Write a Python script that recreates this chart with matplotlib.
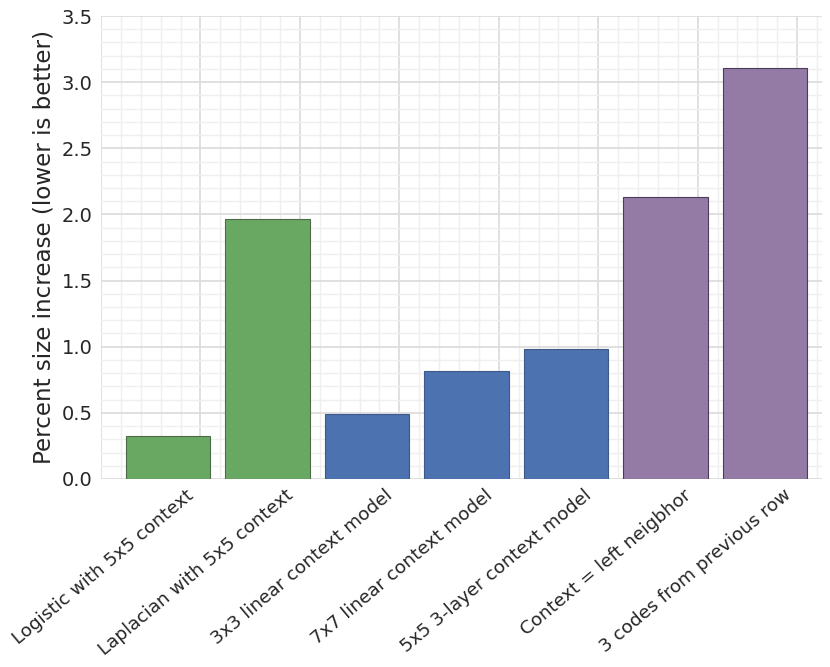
import numpy as np
import matplotlib
matplotlib.use("Agg")
import matplotlib.pyplot as plt
from matplotlib.ticker import MultipleLocator
import matplotlib.transforms as mtransforms

# data
labels = ['Logistic with 5x5 context', 'Laplacian with 5x5 context',
          '3x3 linear context model', '7x7 linear context model',
          '5x5 3-layer context model', 'Context = left neigbhor',
          '3 codes from previous row']
values = [0.325, 1.963, 0.49, 0.815, 0.98, 2.13, 3.107]
groups = ['green', 'green', 'blue', 'blue', 'blue', 'purple', 'purple']

palette = {'green': '#68a862', 'blue': '#4c72b0', 'purple': '#937ba6'}
edges = {'green': '#4d6b49', 'blue': '#3b5a8a', 'purple': '#4a3d5a'}

fig = plt.figure(figsize=(8.3, 6.67), dpi=100)
ax = fig.add_axes([0.1217, 0.2819, 0.8687, 0.6941])

x = np.arange(len(values))
ax.bar(x + 0.25, values, width=0.85, align='edge',
       color=[palette[g] for g in groups],
       edgecolor=[edges[g] for g in groups], linewidth=0.8, zorder=3)

ax.set_xlim(0, 7.25)
ax.set_ylim(0, 3.5)

ax.xaxis.set_major_locator(MultipleLocator(1))
ax.xaxis.set_minor_locator(MultipleLocator(0.2))
ax.yaxis.set_major_locator(MultipleLocator(0.5))
ax.yaxis.set_minor_locator(MultipleLocator(0.1))
ax.grid(which='major', color='#dddddd', linewidth=1.3, zorder=0)
ax.grid(which='minor', color='#efefef', linewidth=1.0, zorder=0)
ax.set_axisbelow(True)

for s in ax.spines.values():
    s.set_visible(False)

ax.tick_params(axis='both', which='both', length=0)
ax.set_xticklabels([])
ax.tick_params(axis='y', labelsize=14, labelcolor='#262626', pad=6)
ax.set_yticks(np.arange(0, 3.51, 0.5))
ax.set_yticklabels(['%.1f' % v for v in np.arange(0, 3.51, 0.5)])

# category labels sit a bit to the right of the bar centres
trans = mtransforms.blended_transform_factory(ax.transData, ax.transAxes)
for i, lab in enumerate(labels):
    ax.text(i + 0.97, -0.015, lab, transform=trans, rotation=40,
            ha='right', va='top', fontsize=13.2, color='#262626')

ax.set_ylabel('Percent size increase (lower is better)', fontsize=16.6,
              color='#262626', labelpad=4)

fig.savefig('out.png', dpi=100)
